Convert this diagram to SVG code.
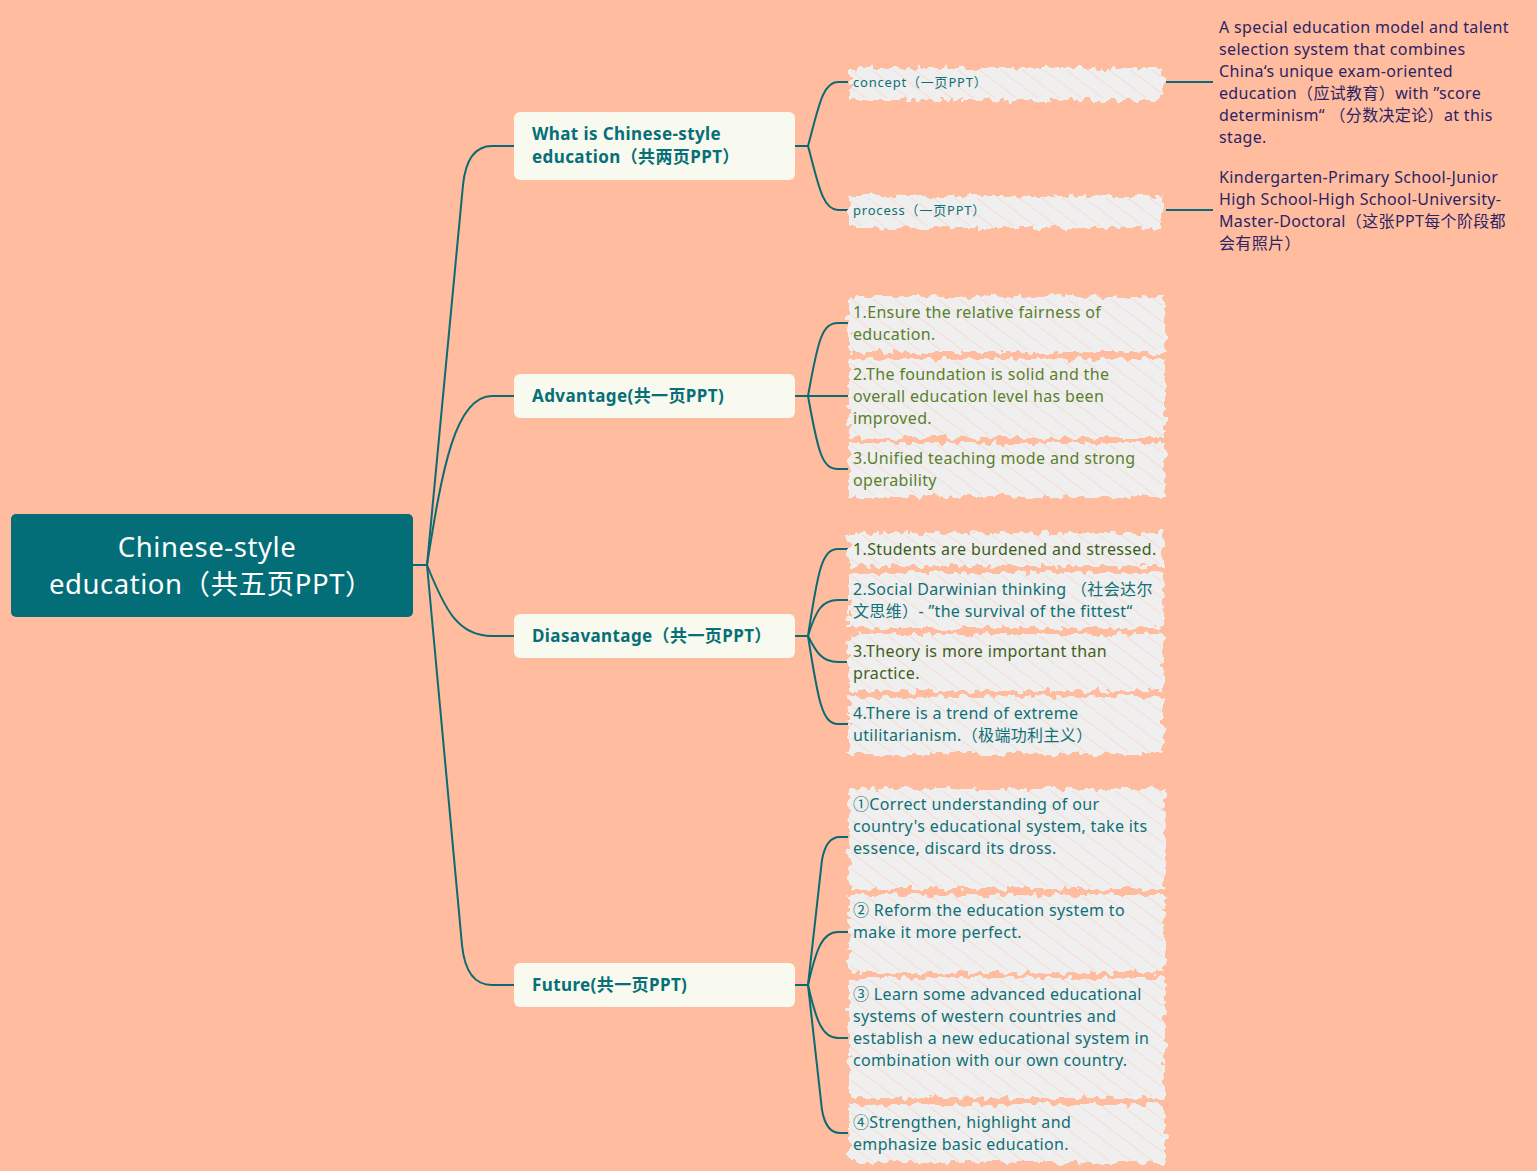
<svg xmlns="http://www.w3.org/2000/svg" width="1537" height="1171" viewBox="0 0 1537 1171">
<style>
.bg{fill:#FFBC9E}
.con{fill:none;stroke:#0B6A72;stroke-width:2}
.root{fill:#036E77}
.br{fill:#F8F9EF}
.rt{font-family:"Noto Sans","Noto Sans CJK SC",sans-serif;font-size:27.5px;letter-spacing:0.55px;fill:#FFFFFF;text-anchor:middle}
.bt{font-family:"Noto Sans","Noto Sans CJK SC",sans-serif;font-size:17px;font-weight:bold;letter-spacing:0.4px;fill:#066F77}
.t{font-family:"Noto Sans","Noto Sans CJK SC",sans-serif;font-size:16px;letter-spacing:0.35px}
.s{font-size:13px;letter-spacing:0.8px}
.teal{fill:#0F7077}
.green{fill:#5A7F2E}
.dg{fill:#3F5E1E}
.navy{fill:#2C2466}
.hb{fill:#EFEFEF;filter:url(#rough)}
.hs{fill:url(#streaks)}
</style>
<defs>
<pattern id="streaks" patternUnits="userSpaceOnUse" width="13" height="13" patternTransform="rotate(-53)">
<line x1="0" y1="0" x2="0" y2="13" stroke="#FFBC9E" stroke-width="1" stroke-opacity="0.75"/>
</pattern>
<filter id="rough" x="-5%" y="-20%" width="110%" height="140%">
<feTurbulence type="fractalNoise" baseFrequency="0.12" numOctaves="2" seed="4" result="n"/>
<feDisplacementMap in="SourceGraphic" in2="n" scale="12" xChannelSelector="R" yChannelSelector="G"/>
</filter>
</defs>
<rect class="bg" x="0" y="0" width="1537" height="1171"/>

<g id="connectors">
<path class="con" d="M413,565 H427"/>
<path class="con" d="M427,565 L463,185 Q467,146 492,146 H514"/>
<path class="con" d="M427,565 C442,470 455,396 492,396 H514"/>
<path class="con" d="M427,565 C445,610 458,636 492,636 H514"/>
<path class="con" d="M427,565 L462,945 Q466,985 492,985 H514"/>
<path class="con" d="M795,146 H808"/>
<path class="con" d="M808,146 C818,110 822,82 838,82 H848"/>
<path class="con" d="M808,146 C818,182 822,210 838,210 H848"/>
<path class="con" d="M795,396 H848"/>
<path class="con" d="M808,396 C818,340 822,323 838,323 H848"/>
<path class="con" d="M808,396 C818,452 822,469 838,469 H848"/>
<path class="con" d="M795,636 H808"/>
<path class="con" d="M808,636 C818,570 822,549 838,549 H848"/>
<path class="con" d="M808,636 C816,610 822,600 838,600 H848"/>
<path class="con" d="M808,636 C816,652 822,662 838,662 H848"/>
<path class="con" d="M808,636 C818,700 822,724 838,724 H848"/>
<path class="con" d="M795,985 H808"/>
<path class="con" d="M808,985 L822,860 Q826,837 840,837 H848"/>
<path class="con" d="M808,985 C816,950 822,932 838,932 H848"/>
<path class="con" d="M808,985 C816,1020 822,1038 838,1038 H848"/>
<path class="con" d="M808,985 L822,1110 Q826,1133 840,1133 H848"/>
<path class="con" d="M1166,82 H1213"/>
<path class="con" d="M1166,210 H1213"/>
</g>

<g id="root">
<rect class="root" x="11" y="514" width="402" height="103" rx="5"/>
<text class="rt" x="207" y="557">Chinese-style</text>
<text class="rt" x="211" y="594">education（共五页PPT）</text>
</g>

<g id="what">
<rect class="br" x="514" y="112" width="281" height="68" rx="6"/>
<text class="bt" x="532" y="140">What is Chinese-style</text>
<text class="bt" x="532" y="163">education（共两页PPT）</text>
</g>
<g id="advantage">
<rect class="br" x="514" y="374" width="281" height="44" rx="6"/>
<text class="bt" x="532" y="402">Advantage(共一页PPT)</text>
</g>
<g id="disadvantage">
<rect class="br" x="514" y="614" width="281" height="44" rx="6"/>
<text class="bt" x="532" y="642">Diasavantage（共一页PPT）</text>
</g>
<g id="future">
<rect class="br" x="514" y="963" width="281" height="44" rx="6"/>
<text class="bt" x="532" y="991">Future(共一页PPT)</text>
</g>

<g id="concept">
<rect class="hb" x="849" y="68" width="314" height="32"/>
<rect class="hs" x="851" y="70" width="310" height="28"/>
<text class="t s teal" x="853" y="87">concept（一页PPT）</text>
</g>
<g id="process">
<rect class="hb" x="849" y="196" width="314" height="32"/>
<rect class="hs" x="851" y="198" width="310" height="28"/>
<text class="t s teal" x="853" y="215">process（一页PPT）</text>
</g>
<g id="concept-detail">
<text class="t navy" x="1219" y="33">A special education model and talent</text>
<text class="t navy" x="1219" y="55">selection system that combines</text>
<text class="t navy" x="1219" y="77">China‘s unique exam-oriented</text>
<text class="t navy" x="1219" y="99">education（应试教育）with ”score</text>
<text class="t navy" x="1219" y="121">determinism“ （分数决定论）at this</text>
<text class="t navy" x="1219" y="143">stage.</text>
</g>
<g id="process-detail">
<text class="t navy" x="1219" y="183">Kindergarten-Primary School-Junior</text>
<text class="t navy" x="1219" y="205">High School-High School-University-</text>
<text class="t navy" x="1219" y="227">Master-Doctoral（这张PPT每个阶段都</text>
<text class="t navy" x="1219" y="249">会有照片）</text>
</g>

<g id="adv1">
<rect class="hb" x="849" y="297" width="316" height="55"/>
<rect class="hs" x="851" y="299" width="312" height="51"/>
<text class="t green" x="853" y="318">1.Ensure the relative fairness of</text>
<text class="t green" x="853" y="340">education.</text>
</g>
<g id="adv2">
<rect class="hb" x="849" y="359" width="316" height="79"/>
<rect class="hs" x="851" y="361" width="312" height="75"/>
<text class="t green" x="853" y="380">2.The foundation is solid and the</text>
<text class="t green" x="853" y="402">overall education level has been</text>
<text class="t green" x="853" y="424">improved.</text>
</g>
<g id="adv3">
<rect class="hb" x="849" y="443" width="316" height="54"/>
<rect class="hs" x="851" y="445" width="312" height="50"/>
<text class="t green" x="853" y="464">3.Unified teaching mode and strong</text>
<text class="t green" x="853" y="486">operability</text>
</g>

<g id="dis1">
<rect class="hb" x="849" y="533" width="314" height="33"/>
<rect class="hs" x="851" y="535" width="310" height="29"/>
<text class="t dg" x="853" y="555">1.Students are burdened and stressed.</text>
</g>
<g id="dis2">
<rect class="hb" x="849" y="573" width="314" height="55"/>
<rect class="hs" x="851" y="575" width="310" height="51"/>
<text class="t teal" x="853" y="595">2.Social Darwinian thinking （社会达尔</text>
<text class="t teal" x="853" y="617">文思维）- ”the survival of the fittest“</text>
</g>
<g id="dis3">
<rect class="hb" x="849" y="634" width="314" height="57"/>
<rect class="hs" x="851" y="636" width="310" height="53"/>
<text class="t dg" x="853" y="657">3.Theory is more important than</text>
<text class="t dg" x="853" y="679">practice.</text>
</g>
<g id="dis4">
<rect class="hb" x="849" y="697" width="314" height="57"/>
<rect class="hs" x="851" y="699" width="310" height="53"/>
<text class="t teal" x="853" y="719">4.There is a trend of extreme</text>
<text class="t teal" x="853" y="741">utilitarianism.（极端功利主义）</text>
</g>

<g id="fut1">
<rect class="hb" x="849" y="789" width="316" height="100"/>
<rect class="hs" x="851" y="791" width="312" height="96"/>
<text class="t teal" x="853" y="810">①Correct understanding of our</text>
<text class="t teal" x="853" y="832">country's educational system, take its</text>
<text class="t teal" x="853" y="854">essence, discard its dross.</text>
</g>
<g id="fut2">
<rect class="hb" x="849" y="895" width="316" height="78"/>
<rect class="hs" x="851" y="897" width="312" height="74"/>
<text class="t teal" x="853" y="916">② Reform the education system to</text>
<text class="t teal" x="853" y="938">make it more perfect.</text>
</g>
<g id="fut3">
<rect class="hb" x="849" y="978" width="316" height="120"/>
<rect class="hs" x="851" y="980" width="312" height="116"/>
<text class="t teal" x="853" y="1000">③ Learn some advanced educational</text>
<text class="t teal" x="853" y="1022">systems of western countries and</text>
<text class="t teal" x="853" y="1044">establish a new educational system in</text>
<text class="t teal" x="853" y="1066">combination with our own country.</text>
</g>
<g id="fut4">
<rect class="hb" x="849" y="1105" width="316" height="58"/>
<rect class="hs" x="851" y="1107" width="312" height="54"/>
<text class="t teal" x="853" y="1128">④Strengthen, highlight and</text>
<text class="t teal" x="853" y="1150">emphasize basic education.</text>
</g>
</svg>
